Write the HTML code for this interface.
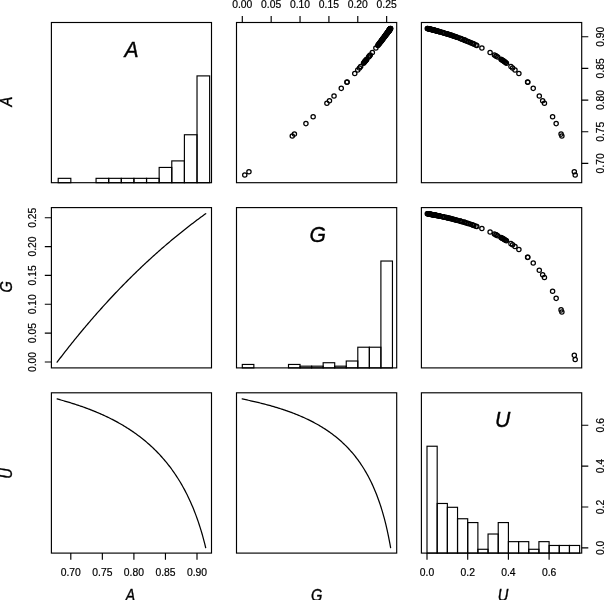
<!DOCTYPE html>
<html lang="en"><head><meta charset="utf-8"><title>Pairs plot A G U</title>
<style>html,body{margin:0;padding:0;background:#fff;}body{width:604px;height:600px;overflow:hidden;}svg{display:block;}</style></head>
<body>
<svg width="604" height="600" viewBox="0 0 604 600" font-family="'Liberation Sans', sans-serif" fill="#000">
<rect x="0" y="0" width="604" height="600" fill="#fff"/>
<g fill="none" stroke="#000" stroke-width="1.15"><rect x="58.20" y="178.34" width="12.62" height="4.36"/><rect x="96.06" y="178.34" width="12.62" height="4.36"/><rect x="108.68" y="178.34" width="12.62" height="4.36"/><rect x="121.30" y="178.34" width="12.62" height="4.36"/><rect x="133.92" y="178.34" width="12.62" height="4.36"/><rect x="146.54" y="178.34" width="12.62" height="4.36"/><rect x="159.16" y="167.44" width="12.62" height="15.26"/><rect x="171.78" y="160.90" width="12.62" height="21.80"/><rect x="184.40" y="134.75" width="12.62" height="47.95"/><rect x="197.02" y="75.90" width="12.62" height="106.80"/></g>
<g fill="none" stroke="#000" stroke-width="1.15"><rect x="242.30" y="364.45" width="11.55" height="3.45"/><rect x="288.50" y="364.45" width="11.55" height="3.45"/><rect x="300.05" y="366.18" width="11.55" height="1.72"/><rect x="311.60" y="366.18" width="11.55" height="1.72"/><rect x="323.15" y="362.73" width="11.55" height="5.17"/><rect x="334.70" y="366.18" width="11.55" height="1.72"/><rect x="346.25" y="361.01" width="11.55" height="6.89"/><rect x="357.80" y="347.22" width="11.55" height="20.68"/><rect x="369.35" y="347.22" width="11.55" height="20.68"/><rect x="380.90" y="261.03" width="11.55" height="106.87"/></g>
<g fill="none" stroke="#000" stroke-width="1.15"><rect x="427.00" y="446.23" width="10.18" height="106.87"/><rect x="437.18" y="503.48" width="10.18" height="49.62"/><rect x="447.35" y="507.30" width="10.18" height="45.80"/><rect x="457.52" y="518.75" width="10.18" height="34.35"/><rect x="467.70" y="522.57" width="10.18" height="30.53"/><rect x="477.88" y="549.28" width="10.18" height="3.82"/><rect x="488.05" y="534.02" width="10.18" height="19.08"/><rect x="498.23" y="522.57" width="10.18" height="30.53"/><rect x="508.40" y="541.65" width="10.18" height="11.45"/><rect x="518.58" y="541.65" width="10.18" height="11.45"/><rect x="528.75" y="549.28" width="10.18" height="3.82"/><rect x="538.92" y="541.65" width="10.18" height="11.45"/><rect x="549.10" y="545.47" width="10.18" height="7.63"/><rect x="559.27" y="545.47" width="10.18" height="7.63"/><rect x="569.45" y="545.47" width="10.18" height="7.63"/></g>
<g fill="none" stroke="#000" stroke-width="1.25"><circle cx="244.78" cy="175.00" r="2.15"/><circle cx="248.95" cy="171.80" r="2.15"/><circle cx="292.27" cy="136.00" r="2.15"/><circle cx="294.41" cy="134.10" r="2.15"/><circle cx="305.93" cy="123.60" r="2.15"/><circle cx="313.15" cy="116.80" r="2.15"/><circle cx="326.90" cy="103.30" r="2.15"/><circle cx="329.46" cy="100.70" r="2.15"/><circle cx="334.03" cy="96.00" r="2.15"/><circle cx="341.27" cy="88.35" r="2.15"/><circle cx="347.11" cy="82.00" r="2.15"/><circle cx="346.93" cy="82.20" r="2.15"/><circle cx="354.77" cy="73.41" r="2.15"/><circle cx="357.77" cy="69.96" r="2.15"/><circle cx="359.50" cy="67.95" r="2.15"/><circle cx="360.67" cy="66.57" r="2.15"/><circle cx="366.79" cy="59.27" r="2.15"/><circle cx="366.39" cy="59.75" r="2.15"/><circle cx="365.99" cy="60.24" r="2.15"/><circle cx="365.47" cy="60.87" r="2.15"/><circle cx="365.06" cy="61.36" r="2.15"/><circle cx="364.64" cy="61.87" r="2.15"/><circle cx="364.09" cy="62.52" r="2.15"/><circle cx="363.53" cy="63.18" r="2.15"/><circle cx="370.28" cy="55.00" r="2.15"/><circle cx="369.47" cy="55.99" r="2.15"/><circle cx="369.42" cy="56.06" r="2.15"/><circle cx="368.59" cy="57.08" r="2.15"/><circle cx="372.34" cy="52.43" r="2.15"/><circle cx="375.88" cy="47.98" r="2.15"/><circle cx="390.56" cy="28.48" r="2.15"/><circle cx="390.50" cy="28.57" r="2.15"/><circle cx="390.43" cy="28.65" r="2.15"/><circle cx="390.37" cy="28.74" r="2.15"/><circle cx="390.31" cy="28.83" r="2.15"/><circle cx="390.24" cy="28.92" r="2.15"/><circle cx="390.18" cy="29.01" r="2.15"/><circle cx="390.11" cy="29.09" r="2.15"/><circle cx="390.05" cy="29.18" r="2.15"/><circle cx="389.98" cy="29.27" r="2.15"/><circle cx="389.92" cy="29.36" r="2.15"/><circle cx="389.85" cy="29.46" r="2.15"/><circle cx="389.79" cy="29.55" r="2.15"/><circle cx="389.72" cy="29.64" r="2.15"/><circle cx="389.65" cy="29.73" r="2.15"/><circle cx="389.59" cy="29.82" r="2.15"/><circle cx="389.52" cy="29.92" r="2.15"/><circle cx="389.45" cy="30.01" r="2.15"/><circle cx="389.38" cy="30.11" r="2.15"/><circle cx="389.31" cy="30.20" r="2.15"/><circle cx="389.24" cy="30.30" r="2.15"/><circle cx="389.17" cy="30.39" r="2.15"/><circle cx="389.10" cy="30.49" r="2.15"/><circle cx="389.03" cy="30.58" r="2.15"/><circle cx="388.96" cy="30.68" r="2.15"/><circle cx="388.89" cy="30.78" r="2.15"/><circle cx="388.82" cy="30.88" r="2.15"/><circle cx="388.75" cy="30.97" r="2.15"/><circle cx="388.55" cy="31.24" r="2.15"/><circle cx="388.47" cy="31.36" r="2.15"/><circle cx="388.39" cy="31.47" r="2.15"/><circle cx="388.24" cy="31.66" r="2.15"/><circle cx="388.16" cy="31.78" r="2.15"/><circle cx="388.08" cy="31.89" r="2.15"/><circle cx="387.63" cy="32.50" r="2.15"/><circle cx="387.54" cy="32.62" r="2.15"/><circle cx="387.46" cy="32.74" r="2.15"/><circle cx="387.15" cy="33.16" r="2.15"/><circle cx="387.11" cy="33.21" r="2.15"/><circle cx="386.79" cy="33.65" r="2.15"/><circle cx="386.69" cy="33.78" r="2.15"/><circle cx="386.50" cy="34.04" r="2.15"/><circle cx="386.44" cy="34.12" r="2.15"/><circle cx="386.13" cy="34.54" r="2.15"/><circle cx="385.94" cy="34.80" r="2.15"/><circle cx="385.74" cy="35.06" r="2.15"/><circle cx="385.55" cy="35.32" r="2.15"/><circle cx="385.32" cy="35.62" r="2.15"/><circle cx="385.10" cy="35.93" r="2.15"/><circle cx="384.87" cy="36.24" r="2.15"/><circle cx="384.63" cy="36.55" r="2.15"/><circle cx="384.40" cy="36.87" r="2.15"/><circle cx="384.15" cy="37.19" r="2.15"/><circle cx="383.88" cy="37.55" r="2.15"/><circle cx="383.27" cy="38.36" r="2.15"/><circle cx="383.16" cy="38.51" r="2.15"/><circle cx="382.90" cy="38.86" r="2.15"/><circle cx="382.64" cy="39.20" r="2.15"/><circle cx="382.05" cy="39.99" r="2.15"/><circle cx="381.93" cy="40.14" r="2.15"/><circle cx="381.74" cy="40.39" r="2.15"/><circle cx="381.34" cy="40.91" r="2.15"/><circle cx="380.90" cy="41.49" r="2.15"/><circle cx="380.71" cy="41.75" r="2.15"/><circle cx="380.03" cy="42.63" r="2.15"/><circle cx="379.48" cy="43.35" r="2.15"/><circle cx="379.13" cy="43.80" r="2.15"/><circle cx="378.89" cy="44.12" r="2.15"/><circle cx="378.13" cy="45.09" r="2.15"/><circle cx="377.84" cy="45.47" r="2.15"/></g>
<g fill="none" stroke="#000" stroke-width="1.25"><circle cx="575.19" cy="175.00" r="2.15"/><circle cx="574.31" cy="171.80" r="2.15"/><circle cx="561.89" cy="136.00" r="2.15"/><circle cx="561.07" cy="134.10" r="2.15"/><circle cx="556.16" cy="123.60" r="2.15"/><circle cx="552.59" cy="116.80" r="2.15"/><circle cx="544.43" cy="103.30" r="2.15"/><circle cx="542.66" cy="100.70" r="2.15"/><circle cx="539.29" cy="96.00" r="2.15"/><circle cx="533.23" cy="88.35" r="2.15"/><circle cx="527.60" cy="82.00" r="2.15"/><circle cx="527.79" cy="82.20" r="2.15"/><circle cx="518.90" cy="73.41" r="2.15"/><circle cx="515.00" cy="69.96" r="2.15"/><circle cx="512.60" cy="67.95" r="2.15"/><circle cx="510.90" cy="66.57" r="2.15"/><circle cx="501.00" cy="59.27" r="2.15"/><circle cx="501.70" cy="59.75" r="2.15"/><circle cx="502.40" cy="60.24" r="2.15"/><circle cx="503.30" cy="60.87" r="2.15"/><circle cx="504.00" cy="61.36" r="2.15"/><circle cx="504.70" cy="61.87" r="2.15"/><circle cx="505.60" cy="62.52" r="2.15"/><circle cx="506.50" cy="63.18" r="2.15"/><circle cx="494.40" cy="55.00" r="2.15"/><circle cx="496.00" cy="55.99" r="2.15"/><circle cx="496.10" cy="56.06" r="2.15"/><circle cx="497.70" cy="57.08" r="2.15"/><circle cx="490.10" cy="52.43" r="2.15"/><circle cx="481.90" cy="47.98" r="2.15"/><circle cx="427.30" cy="28.48" r="2.15"/><circle cx="427.66" cy="28.57" r="2.15"/><circle cx="428.02" cy="28.65" r="2.15"/><circle cx="428.38" cy="28.74" r="2.15"/><circle cx="428.74" cy="28.83" r="2.15"/><circle cx="429.10" cy="28.92" r="2.15"/><circle cx="429.46" cy="29.01" r="2.15"/><circle cx="429.82" cy="29.09" r="2.15"/><circle cx="430.18" cy="29.18" r="2.15"/><circle cx="430.54" cy="29.27" r="2.15"/><circle cx="430.90" cy="29.36" r="2.15"/><circle cx="431.26" cy="29.46" r="2.15"/><circle cx="431.62" cy="29.55" r="2.15"/><circle cx="431.98" cy="29.64" r="2.15"/><circle cx="432.34" cy="29.73" r="2.15"/><circle cx="432.70" cy="29.82" r="2.15"/><circle cx="433.06" cy="29.92" r="2.15"/><circle cx="433.42" cy="30.01" r="2.15"/><circle cx="433.78" cy="30.11" r="2.15"/><circle cx="434.14" cy="30.20" r="2.15"/><circle cx="434.50" cy="30.30" r="2.15"/><circle cx="434.86" cy="30.39" r="2.15"/><circle cx="435.22" cy="30.49" r="2.15"/><circle cx="435.58" cy="30.58" r="2.15"/><circle cx="435.94" cy="30.68" r="2.15"/><circle cx="436.30" cy="30.78" r="2.15"/><circle cx="436.66" cy="30.88" r="2.15"/><circle cx="437.02" cy="30.97" r="2.15"/><circle cx="438.00" cy="31.24" r="2.15"/><circle cx="438.40" cy="31.36" r="2.15"/><circle cx="438.80" cy="31.47" r="2.15"/><circle cx="439.50" cy="31.66" r="2.15"/><circle cx="439.90" cy="31.78" r="2.15"/><circle cx="440.30" cy="31.89" r="2.15"/><circle cx="442.40" cy="32.50" r="2.15"/><circle cx="442.80" cy="32.62" r="2.15"/><circle cx="443.20" cy="32.74" r="2.15"/><circle cx="444.60" cy="33.16" r="2.15"/><circle cx="444.75" cy="33.21" r="2.15"/><circle cx="446.20" cy="33.65" r="2.15"/><circle cx="446.60" cy="33.78" r="2.15"/><circle cx="447.45" cy="34.04" r="2.15"/><circle cx="447.70" cy="34.12" r="2.15"/><circle cx="449.00" cy="34.54" r="2.15"/><circle cx="449.80" cy="34.80" r="2.15"/><circle cx="450.60" cy="35.06" r="2.15"/><circle cx="451.40" cy="35.32" r="2.15"/><circle cx="452.30" cy="35.62" r="2.15"/><circle cx="453.20" cy="35.93" r="2.15"/><circle cx="454.10" cy="36.24" r="2.15"/><circle cx="455.00" cy="36.55" r="2.15"/><circle cx="455.90" cy="36.87" r="2.15"/><circle cx="456.80" cy="37.19" r="2.15"/><circle cx="457.80" cy="37.55" r="2.15"/><circle cx="460.00" cy="38.36" r="2.15"/><circle cx="460.40" cy="38.51" r="2.15"/><circle cx="461.30" cy="38.86" r="2.15"/><circle cx="462.20" cy="39.20" r="2.15"/><circle cx="464.20" cy="39.99" r="2.15"/><circle cx="464.60" cy="40.14" r="2.15"/><circle cx="465.20" cy="40.39" r="2.15"/><circle cx="466.50" cy="40.91" r="2.15"/><circle cx="467.90" cy="41.49" r="2.15"/><circle cx="468.50" cy="41.75" r="2.15"/><circle cx="470.55" cy="42.63" r="2.15"/><circle cx="472.20" cy="43.35" r="2.15"/><circle cx="473.20" cy="43.80" r="2.15"/><circle cx="473.90" cy="44.12" r="2.15"/><circle cx="476.00" cy="45.09" r="2.15"/><circle cx="476.80" cy="45.47" r="2.15"/></g>
<g fill="none" stroke="#000" stroke-width="1.25"><circle cx="575.19" cy="359.52" r="2.15"/><circle cx="574.31" cy="355.35" r="2.15"/><circle cx="561.89" cy="312.03" r="2.15"/><circle cx="561.07" cy="309.89" r="2.15"/><circle cx="556.16" cy="298.37" r="2.15"/><circle cx="552.59" cy="291.15" r="2.15"/><circle cx="544.43" cy="277.40" r="2.15"/><circle cx="542.66" cy="274.84" r="2.15"/><circle cx="539.29" cy="270.27" r="2.15"/><circle cx="533.23" cy="263.03" r="2.15"/><circle cx="527.60" cy="257.19" r="2.15"/><circle cx="527.79" cy="257.37" r="2.15"/><circle cx="518.90" cy="249.53" r="2.15"/><circle cx="515.00" cy="246.53" r="2.15"/><circle cx="512.60" cy="244.80" r="2.15"/><circle cx="510.90" cy="243.63" r="2.15"/><circle cx="501.00" cy="237.51" r="2.15"/><circle cx="501.70" cy="237.91" r="2.15"/><circle cx="502.40" cy="238.31" r="2.15"/><circle cx="503.30" cy="238.83" r="2.15"/><circle cx="504.00" cy="239.24" r="2.15"/><circle cx="504.70" cy="239.66" r="2.15"/><circle cx="505.60" cy="240.21" r="2.15"/><circle cx="506.50" cy="240.77" r="2.15"/><circle cx="494.40" cy="234.02" r="2.15"/><circle cx="496.00" cy="234.83" r="2.15"/><circle cx="496.10" cy="234.88" r="2.15"/><circle cx="497.70" cy="235.71" r="2.15"/><circle cx="490.10" cy="231.96" r="2.15"/><circle cx="481.90" cy="228.42" r="2.15"/><circle cx="427.30" cy="213.74" r="2.15"/><circle cx="427.66" cy="213.80" r="2.15"/><circle cx="428.02" cy="213.87" r="2.15"/><circle cx="428.38" cy="213.93" r="2.15"/><circle cx="428.74" cy="213.99" r="2.15"/><circle cx="429.10" cy="214.06" r="2.15"/><circle cx="429.46" cy="214.12" r="2.15"/><circle cx="429.82" cy="214.19" r="2.15"/><circle cx="430.18" cy="214.25" r="2.15"/><circle cx="430.54" cy="214.32" r="2.15"/><circle cx="430.90" cy="214.38" r="2.15"/><circle cx="431.26" cy="214.45" r="2.15"/><circle cx="431.62" cy="214.51" r="2.15"/><circle cx="431.98" cy="214.58" r="2.15"/><circle cx="432.34" cy="214.65" r="2.15"/><circle cx="432.70" cy="214.71" r="2.15"/><circle cx="433.06" cy="214.78" r="2.15"/><circle cx="433.42" cy="214.85" r="2.15"/><circle cx="433.78" cy="214.92" r="2.15"/><circle cx="434.14" cy="214.99" r="2.15"/><circle cx="434.50" cy="215.06" r="2.15"/><circle cx="434.86" cy="215.13" r="2.15"/><circle cx="435.22" cy="215.20" r="2.15"/><circle cx="435.58" cy="215.27" r="2.15"/><circle cx="435.94" cy="215.34" r="2.15"/><circle cx="436.30" cy="215.41" r="2.15"/><circle cx="436.66" cy="215.48" r="2.15"/><circle cx="437.02" cy="215.55" r="2.15"/><circle cx="438.00" cy="215.75" r="2.15"/><circle cx="438.40" cy="215.83" r="2.15"/><circle cx="438.80" cy="215.91" r="2.15"/><circle cx="439.50" cy="216.06" r="2.15"/><circle cx="439.90" cy="216.14" r="2.15"/><circle cx="440.30" cy="216.22" r="2.15"/><circle cx="442.40" cy="216.67" r="2.15"/><circle cx="442.80" cy="216.76" r="2.15"/><circle cx="443.20" cy="216.84" r="2.15"/><circle cx="444.60" cy="217.15" r="2.15"/><circle cx="444.75" cy="217.19" r="2.15"/><circle cx="446.20" cy="217.51" r="2.15"/><circle cx="446.60" cy="217.61" r="2.15"/><circle cx="447.45" cy="217.80" r="2.15"/><circle cx="447.70" cy="217.86" r="2.15"/><circle cx="449.00" cy="218.17" r="2.15"/><circle cx="449.80" cy="218.36" r="2.15"/><circle cx="450.60" cy="218.56" r="2.15"/><circle cx="451.40" cy="218.75" r="2.15"/><circle cx="452.30" cy="218.98" r="2.15"/><circle cx="453.20" cy="219.20" r="2.15"/><circle cx="454.10" cy="219.43" r="2.15"/><circle cx="455.00" cy="219.67" r="2.15"/><circle cx="455.90" cy="219.90" r="2.15"/><circle cx="456.80" cy="220.15" r="2.15"/><circle cx="457.80" cy="220.42" r="2.15"/><circle cx="460.00" cy="221.03" r="2.15"/><circle cx="460.40" cy="221.14" r="2.15"/><circle cx="461.30" cy="221.40" r="2.15"/><circle cx="462.20" cy="221.66" r="2.15"/><circle cx="464.20" cy="222.25" r="2.15"/><circle cx="464.60" cy="222.37" r="2.15"/><circle cx="465.20" cy="222.56" r="2.15"/><circle cx="466.50" cy="222.96" r="2.15"/><circle cx="467.90" cy="223.40" r="2.15"/><circle cx="468.50" cy="223.59" r="2.15"/><circle cx="470.55" cy="224.27" r="2.15"/><circle cx="472.20" cy="224.82" r="2.15"/><circle cx="473.20" cy="225.17" r="2.15"/><circle cx="473.90" cy="225.41" r="2.15"/><circle cx="476.00" cy="226.17" r="2.15"/><circle cx="476.80" cy="226.46" r="2.15"/></g>
<polyline points="57.10,362.14 58.03,360.91 58.97,359.69 59.90,358.46 60.84,357.25 61.77,356.03 62.71,354.82 63.64,353.62 64.58,352.42 65.51,351.22 66.45,350.03 67.38,348.84 68.32,347.66 69.25,346.48 70.18,345.30 71.12,344.13 72.05,342.96 72.99,341.80 73.92,340.64 74.86,339.48 75.79,338.33 76.73,337.18 77.66,336.04 78.60,334.90 79.53,333.77 80.46,332.63 81.40,331.51 82.33,330.38 83.27,329.26 84.20,328.15 85.14,327.04 86.07,325.93 87.01,324.83 87.94,323.73 88.88,322.63 89.81,321.54 90.75,320.45 91.68,319.37 92.61,318.29 93.55,317.21 94.48,316.14 95.42,315.07 96.35,314.01 97.29,312.95 98.22,311.89 99.16,310.84 100.09,309.79 101.03,308.75 101.96,307.71 102.89,306.67 103.83,305.63 104.76,304.60 105.70,303.58 106.63,302.56 107.57,301.54 108.50,300.52 109.44,299.51 110.37,298.51 111.31,297.50 112.24,296.50 113.18,295.51 114.11,294.51 115.04,293.52 115.98,292.54 116.91,291.56 117.85,290.58 118.78,289.61 119.72,288.64 120.65,287.67 121.59,286.71 122.52,285.75 123.46,284.79 124.39,283.84 125.33,282.89 126.26,281.94 127.19,281.00 128.13,280.06 129.06,279.13 130.00,278.20 130.93,277.27 131.87,276.35 132.80,275.43 133.74,274.51 134.67,273.60 135.61,272.69 136.54,271.78 137.47,270.88 138.41,269.98 139.34,269.08 140.28,268.19 141.21,267.30 142.15,266.41 143.08,265.53 144.02,264.65 144.95,263.77 145.89,262.90 146.82,262.03 147.76,261.17 148.69,260.31 149.62,259.45 150.56,258.59 151.49,257.74 152.43,256.89 153.36,256.04 154.30,255.20 155.23,254.36 156.17,253.53 157.10,252.69 158.04,251.87 158.97,251.04 159.91,250.22 160.84,249.40 161.77,248.58 162.71,247.77 163.64,246.96 164.58,246.15 165.51,245.35 166.45,244.55 167.38,243.75 168.32,242.96 169.25,242.17 170.19,241.38 171.12,240.59 172.05,239.81 172.99,239.03 173.92,238.26 174.86,237.49 175.79,236.72 176.73,235.95 177.66,235.19 178.60,234.43 179.53,233.67 180.47,232.92 181.40,232.17 182.34,231.42 183.27,230.68 184.20,229.93 185.14,229.20 186.07,228.46 187.01,227.73 187.94,227.00 188.88,226.27 189.81,225.55 190.75,224.83 191.68,224.11 192.62,223.39 193.55,222.68 194.48,221.97 195.42,221.27 196.35,220.56 197.29,219.86 198.22,219.16 199.16,218.47 200.09,217.78 201.03,217.09 201.96,216.40 202.90,215.72 203.83,215.04 204.77,214.36 205.70,213.69" fill="none" stroke="#000" stroke-width="1.25" stroke-linecap="round" stroke-linejoin="round"/>
<polyline points="57.10,398.97 58.03,399.22 58.97,399.47 59.90,399.72 60.84,399.98 61.77,400.24 62.71,400.51 63.64,400.77 64.58,401.04 65.51,401.31 66.45,401.58 67.38,401.86 68.32,402.14 69.25,402.42 70.18,402.71 71.12,402.99 72.05,403.28 72.99,403.58 73.92,403.87 74.86,404.18 75.79,404.48 76.73,404.79 77.66,405.09 78.60,405.41 79.53,405.72 80.46,406.05 81.40,406.37 82.33,406.70 83.27,407.03 84.20,407.36 85.14,407.70 86.07,408.04 87.01,408.39 87.94,408.74 88.88,409.09 89.81,409.45 90.75,409.81 91.68,410.18 92.61,410.55 93.55,410.92 94.48,411.30 95.42,411.68 96.35,412.07 97.29,412.46 98.22,412.86 99.16,413.26 100.09,413.67 101.03,414.08 101.96,414.49 102.89,414.92 103.83,415.34 104.76,415.77 105.70,416.21 106.63,416.65 107.57,417.10 108.50,417.55 109.44,418.01 110.37,418.48 111.31,418.95 112.24,419.42 113.18,419.90 114.11,420.39 115.04,420.89 115.98,421.39 116.91,421.90 117.85,422.41 118.78,422.93 119.72,423.46 120.65,423.99 121.59,424.53 122.52,425.08 123.46,425.64 124.39,426.20 125.33,426.77 126.26,427.35 127.19,427.94 128.13,428.53 129.06,429.13 130.00,429.74 130.93,430.36 131.87,430.99 132.80,431.63 133.74,432.27 134.67,432.93 135.61,433.59 136.54,434.27 137.47,434.95 138.41,435.64 139.34,436.35 140.28,437.06 141.21,437.79 142.15,438.52 143.08,439.27 144.02,440.03 144.95,440.80 145.89,441.58 146.82,442.37 147.76,443.18 148.69,444.00 149.62,444.83 150.56,445.68 151.49,446.54 152.43,447.41 153.36,448.30 154.30,449.20 155.23,450.12 156.17,451.05 157.10,452.00 158.04,452.96 158.97,453.94 159.91,454.94 160.84,455.96 161.77,457.00 162.71,458.05 163.64,459.12 164.58,460.22 165.51,461.33 166.45,462.46 167.38,463.62 168.32,464.80 169.25,466.00 170.19,467.23 171.12,468.48 172.05,469.75 172.99,471.06 173.92,472.39 174.86,473.74 175.79,475.13 176.73,476.55 177.66,478.00 178.60,479.48 179.53,481.00 180.47,482.55 181.40,484.14 182.34,485.77 183.27,487.44 184.20,489.15 185.14,490.91 186.07,492.71 187.01,494.56 187.94,496.46 188.88,498.41 189.81,500.42 190.75,502.49 191.68,504.63 192.62,506.82 193.55,509.09 194.48,511.44 195.42,513.86 196.35,516.37 197.29,518.96 198.22,521.66 199.16,524.45 200.09,527.36 201.03,530.39 201.96,533.55 202.90,536.84 203.83,540.30 204.77,543.92 205.70,547.73" fill="none" stroke="#000" stroke-width="1.25" stroke-linecap="round" stroke-linejoin="round"/>
<polyline points="242.16,398.97 243.39,399.22 244.61,399.47 245.84,399.72 247.05,399.98 248.27,400.24 249.48,400.51 250.68,400.77 251.88,401.04 253.08,401.31 254.27,401.58 255.46,401.86 256.64,402.14 257.82,402.42 259.00,402.71 260.17,402.99 261.34,403.28 262.50,403.58 263.66,403.87 264.82,404.18 265.97,404.48 267.12,404.79 268.26,405.09 269.40,405.41 270.53,405.72 271.67,406.05 272.79,406.37 273.92,406.70 275.04,407.03 276.15,407.36 277.26,407.70 278.37,408.04 279.47,408.39 280.57,408.74 281.67,409.09 282.76,409.45 283.85,409.81 284.93,410.18 286.01,410.55 287.09,410.92 288.16,411.30 289.23,411.68 290.29,412.07 291.35,412.46 292.41,412.86 293.46,413.26 294.51,413.67 295.55,414.08 296.59,414.49 297.63,414.92 298.67,415.34 299.70,415.77 300.72,416.21 301.74,416.65 302.76,417.10 303.78,417.55 304.79,418.01 305.79,418.48 306.80,418.95 307.80,419.42 308.79,419.90 309.79,420.39 310.78,420.89 311.76,421.39 312.74,421.90 313.72,422.41 314.69,422.93 315.66,423.46 316.63,423.99 317.59,424.53 318.55,425.08 319.51,425.64 320.46,426.20 321.41,426.77 322.36,427.35 323.30,427.94 324.24,428.53 325.17,429.13 326.10,429.74 327.03,430.36 327.95,430.99 328.87,431.63 329.79,432.27 330.70,432.93 331.61,433.59 332.52,434.27 333.42,434.95 334.32,435.64 335.22,436.35 336.11,437.06 337.00,437.79 337.89,438.52 338.77,439.27 339.65,440.03 340.53,440.80 341.40,441.58 342.27,442.37 343.13,443.18 343.99,444.00 344.85,444.83 345.71,445.68 346.56,446.54 347.41,447.41 348.26,448.30 349.10,449.20 349.94,450.12 350.77,451.05 351.61,452.00 352.43,452.96 353.26,453.94 354.08,454.94 354.90,455.96 355.72,457.00 356.53,458.05 357.34,459.12 358.15,460.22 358.95,461.33 359.75,462.46 360.55,463.62 361.34,464.80 362.13,466.00 362.92,467.23 363.71,468.48 364.49,469.75 365.27,471.06 366.04,472.39 366.81,473.74 367.58,475.13 368.35,476.55 369.11,478.00 369.87,479.48 370.63,481.00 371.38,482.55 372.13,484.14 372.88,485.77 373.62,487.44 374.37,489.15 375.10,490.91 375.84,492.71 376.57,494.56 377.30,496.46 378.03,498.41 378.75,500.42 379.47,502.49 380.19,504.63 380.91,506.82 381.62,509.09 382.33,511.44 383.03,513.86 383.74,516.37 384.44,518.96 385.14,521.66 385.83,524.45 386.52,527.36 387.21,530.39 387.90,533.55 388.58,536.84 389.26,540.30 389.94,543.92 390.61,547.73" fill="none" stroke="#000" stroke-width="1.25" stroke-linecap="round" stroke-linejoin="round"/>
<g fill="none" stroke="#000" stroke-width="1.15"><rect x="51.4" y="22.5" width="160.10" height="160.20"/><rect x="236.5" y="22.5" width="160.20" height="160.20"/><rect x="421.4" y="22.5" width="160.30" height="160.20"/><rect x="51.4" y="207.6" width="160.10" height="160.30"/><rect x="236.5" y="207.6" width="160.20" height="160.30"/><rect x="421.4" y="207.6" width="160.30" height="160.30"/><rect x="51.4" y="392.8" width="160.10" height="160.30"/><rect x="236.5" y="392.8" width="160.20" height="160.30"/><rect x="421.4" y="392.8" width="160.30" height="160.30"/></g>
<path d="M242.30 22.5V15.90M271.17 22.5V15.90M300.04 22.5V15.90M328.91 22.5V15.90M357.78 22.5V15.90M386.65 22.5V15.90M70.80 553.1V559.70M102.35 553.1V559.70M133.90 553.1V559.70M165.45 553.1V559.70M197.00 553.1V559.70M427.00 553.1V559.70M467.70 553.1V559.70M508.40 553.1V559.70M549.10 553.1V559.70M51.4 361.95H44.80M51.4 333.10H44.80M51.4 304.25H44.80M51.4 275.40H44.80M51.4 246.55H44.80M51.4 217.70H44.80M581.7 163.40H588.30M581.7 131.73H588.30M581.7 100.06H588.30M581.7 68.39H588.30M581.7 36.72H588.30M581.7 547.90H588.30M581.7 507.00H588.30M581.7 466.10H588.30M581.7 425.20H588.30" fill="none" stroke="#000" stroke-width="1.15"/>
<g font-size="10.35px" stroke="#000" stroke-width="0.2"><text x="242.30" y="7.9" text-anchor="middle">0.00</text><text x="271.17" y="7.9" text-anchor="middle">0.05</text><text x="300.04" y="7.9" text-anchor="middle">0.10</text><text x="328.91" y="7.9" text-anchor="middle">0.15</text><text x="357.78" y="7.9" text-anchor="middle">0.20</text><text x="386.65" y="7.9" text-anchor="middle">0.25</text><text x="70.80" y="575.8" text-anchor="middle">0.70</text><text x="102.35" y="575.8" text-anchor="middle">0.75</text><text x="133.90" y="575.8" text-anchor="middle">0.80</text><text x="165.45" y="575.8" text-anchor="middle">0.85</text><text x="197.00" y="575.8" text-anchor="middle">0.90</text><text x="427.00" y="575.8" text-anchor="middle">0.0</text><text x="467.70" y="575.8" text-anchor="middle">0.2</text><text x="508.40" y="575.8" text-anchor="middle">0.4</text><text x="549.10" y="575.8" text-anchor="middle">0.6</text><text transform="translate(36.4 361.95) rotate(-90)" text-anchor="middle">0.00</text><text transform="translate(36.4 333.10) rotate(-90)" text-anchor="middle">0.05</text><text transform="translate(36.4 304.25) rotate(-90)" text-anchor="middle">0.10</text><text transform="translate(36.4 275.40) rotate(-90)" text-anchor="middle">0.15</text><text transform="translate(36.4 246.55) rotate(-90)" text-anchor="middle">0.20</text><text transform="translate(36.4 217.70) rotate(-90)" text-anchor="middle">0.25</text><text transform="translate(603.5 163.40) rotate(-90)" text-anchor="middle">0.70</text><text transform="translate(603.5 131.73) rotate(-90)" text-anchor="middle">0.75</text><text transform="translate(603.5 100.06) rotate(-90)" text-anchor="middle">0.80</text><text transform="translate(603.5 68.39) rotate(-90)" text-anchor="middle">0.85</text><text transform="translate(603.5 36.72) rotate(-90)" text-anchor="middle">0.90</text><text transform="translate(603.5 547.90) rotate(-90)" text-anchor="middle">0.0</text><text transform="translate(603.5 507.00) rotate(-90)" text-anchor="middle">0.2</text><text transform="translate(603.5 466.10) rotate(-90)" text-anchor="middle">0.4</text><text transform="translate(603.5 425.20) rotate(-90)" text-anchor="middle">0.6</text></g>
<g font-size="21.12px" font-style="italic" stroke="#000" stroke-width="0.4"><text transform="translate(131.45 56.60) scale(1 1.05)" text-anchor="middle">A</text><text transform="translate(317.60 241.70) scale(1 1.05)" text-anchor="middle">G</text><text transform="translate(502.55 426.90) scale(1 1.05)" text-anchor="middle">U</text></g>
<g font-size="14.6px" font-style="italic" stroke="#000" stroke-width="0.35"><text transform="translate(130.45 600.8) scale(1 1.07)" text-anchor="middle">A</text><text transform="translate(11.7 101.60) rotate(-90) scale(1 1.07)" text-anchor="middle">A</text><text transform="translate(316.60 600.8) scale(1 1.07)" text-anchor="middle">G</text><text transform="translate(11.7 286.95) rotate(-90) scale(1 1.07)" text-anchor="middle">G</text><text transform="translate(502.95 600.8) scale(1 1.07)" text-anchor="middle">U</text><text transform="translate(11.7 473.45) rotate(-90) scale(1 1.07)" text-anchor="middle">U</text></g>
</svg>
</body></html>
